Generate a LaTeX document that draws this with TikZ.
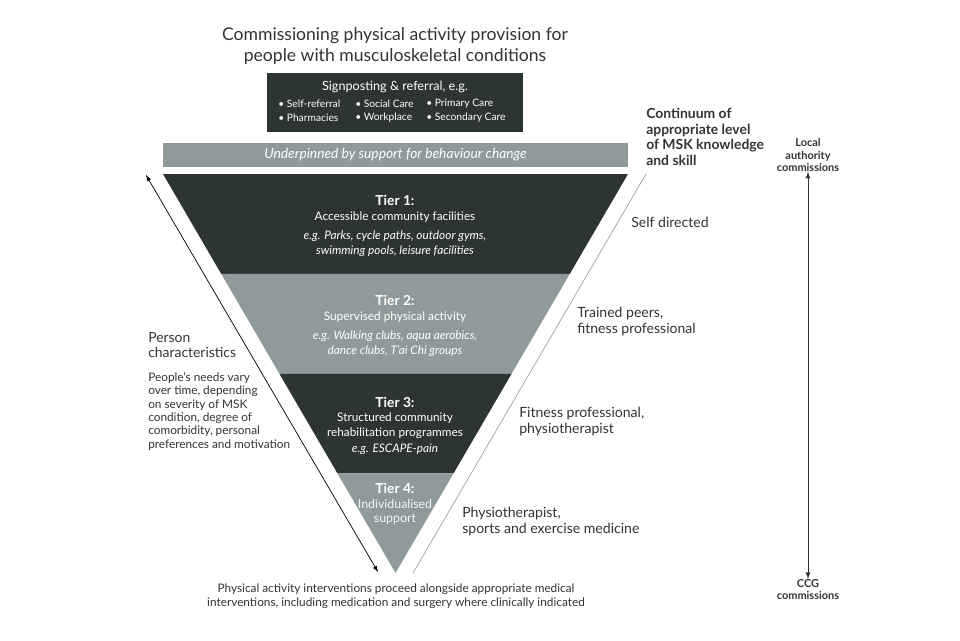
\documentclass[tikz,border=0pt]{standalone}
\usepackage{fontspec}
\setmainfont{Lato}
\usetikzlibrary{calc}
\usetikzlibrary{positioning}

\definecolor{tierdark}{HTML}{2C3532}
\definecolor{tiergrey}{HTML}{8F9B9B}
\definecolor{rulegrey}{HTML}{A4ACAC}
\definecolor{txtgrey}{HTML}{333333}

\tikzset{
  plain/.style={inner sep=0pt, text=txtgrey, align=left},
  tierhead/.style={inner sep=0pt, text=white, font=\bfseries\fontsize{9.8}{11}\selectfont},
  tiertext/.style={inner sep=0pt, text=white, align=center, font=\fontsize{8.4}{10.8}\selectfont},
  tiereg/.style={inner sep=0pt, text=white, align=center, font=\itshape\fontsize{8.4}{10.6}\selectfont},
  sign/.style={inner sep=0pt, text=white, anchor=west, font=\fontsize{7.3}{8}\selectfont},
  level/.style={plain, anchor=west, font=\fontsize{10}{11.4}\selectfont},
}

\begin{document}
\begin{tikzpicture}[x=0.025cm, y=-0.025cm]
  \useasboundingbox (0,0) rectangle (960,640);

  %Title
  \node [plain, align=center, font=\fontsize{12.5}{15.6}\selectfont] (title) at (395,46)
    {Commissioning physical activity provision for\\people with musculoskeletal conditions};

  %Box Signposting
  \node [fill=tierdark, minimum width=6.4cm, minimum height=1.475cm] (signbox) at (395,102.5) {};
  \node [inner sep=0pt, text=white, font=\fontsize{9}{10}\selectfont] (signhead) at (395,87) {Signposting \& referral, e.g.};
  \node [sign] (s1) at (278,104) {\textbullet\ Self-referral};
  \node [sign] (s2) at (355,104) {\textbullet\ Social Care};
  \node [sign] (s3) at (426,104) {\textbullet\ Primary Care};
  \node [sign] (s4) at (278,118) {\textbullet\ Pharmacies};
  \node [sign] (s5) at (355,118) {\textbullet\ Workplace};
  \node [sign] (s6) at (426,118) {\textbullet\ Secondary Care};

  %Bar behaviour change
  \node [fill=tiergrey, minimum width=11.625cm, minimum height=0.6cm, text=white,
         font=\itshape\fontsize{9.8}{11}\selectfont] (bar) at (395.5,155)
    {Underpinned by support for behaviour change};

  %Triangle
  \coordinate (TL) at (163,174);
  \coordinate (TR) at (628,174);
  \coordinate (AP) at (395.5,573);
  \fill [tierdark] (TL) -- (TR) -- ($(TR)!.25!(AP)$) -- ($(TL)!.25!(AP)$) -- cycle;
  \fill [tiergrey] ($(TL)!.25!(AP)$) -- ($(TR)!.25!(AP)$) -- ($(TR)!.5!(AP)$) -- ($(TL)!.5!(AP)$) -- cycle;
  \fill [tierdark] ($(TL)!.5!(AP)$) -- ($(TR)!.5!(AP)$) -- ($(TR)!.75!(AP)$) -- ($(TL)!.75!(AP)$) -- cycle;
  \fill [tiergrey] ($(TL)!.75!(AP)$) -- ($(TR)!.75!(AP)$) -- (AP) -- cycle;

  \node [tierhead] (t1) at (395,200) {Tier 1:};
  \node [tiertext] (t1a) at (395,217) {Accessible community facilities};
  \node [tiereg] (t1b) at (395,243.5) {e.g. Parks, cycle paths, outdoor gyms,\\swimming pools, leisure facilities};

  \node [tierhead] (t2) at (395,300) {Tier 2:};
  \node [tiertext] (t2a) at (395,317) {Supervised physical activity};
  \node [tiereg] (t2b) at (395,343.5) {e.g. Walking clubs, aqua aerobics,\\dance clubs, T'ai Chi groups};

  \node [tierhead] (t3) at (395,402) {Tier 3:};
  \node [tiertext] (t3a) at (395,425.5) {Structured community\\rehabilitation programmes};
  \node [tiereg] (t3b) at (395,449) {e.g. ESCAPE-pain};

  \node [tierhead] (t4) at (395,488) {Tier 4:};
  \node [tiertext, text=white!90!tiergrey, font=\fontsize{8.8}{10.5}\selectfont] (t4a) at (395,512) {Individualised\\support};

  %Continuum side
  \coordinate (PT) at (646,174);
  \coordinate (PB) at (413,573);
  \draw [rulegrey, line width=0.6pt] (PT) -- (PB);
  \foreach \f in {0,.25,.5,.75,1}
    \draw [rulegrey, line width=0.6pt] ($(PT)!\f!(PB)$) -- ($(PT)!\f!(PB)$ -| 772,0);

  \node [plain, anchor=north west, font=\bfseries\fontsize{9.9}{11}\selectfont] (cont) at (646,108)
    {Continuum of\\appropriate level\\of MSK knowledge\\and skill};

  \node [level] (l1) at (631,222) {Self directed};
  \node [level] (l2) at (577,322) {Trained peers,\\fitness professional};
  \node [level] (l3) at (519,422) {Fitness professional,\\physiotherapist};
  \node [level] (l4) at (462,522) {Physiotherapist,\\sports and exercise medicine};

  %Commissions
  \node [plain, align=center, font=\bfseries\fontsize{7.8}{8.9}\selectfont] (la) at (808,155)
    {Local\\authority\\commissions};
  \node [plain, align=center, font=\bfseries\fontsize{7.8}{8.9}\selectfont] (ccg) at (808,589.5)
    {CCG\\commissions};
  \draw [<->, >=latex, txtgrey, line width=0.6pt] (la.south) -- (ccg.north);

  %Person characteristics
  \coordinate (PA) at (146,175);
  \coordinate (PZ) at (378,572);
  \draw [<->, >=latex, black, line width=0.5pt] (PA) -- (PZ);
  \node [plain, anchor=north west, font=\fontsize{9.9}{10.7}\selectfont] (pers) at (148,332)
    {Person\\characteristics};
  \node [plain, anchor=north west, font=\fontsize{8.4}{9.5}\selectfont] (persb) at (148,372)
    {People's needs vary\\over time, depending\\on severity of MSK\\condition, degree of\\comorbidity, personal\\preferences and motivation};

  %Footnote
  \node [plain, align=center, font=\fontsize{8.4}{10}\selectfont] (foot) at (396,596)
    {Physical activity interventions proceed alongside appropriate medical\\interventions, including medication and surgery where clinically indicated};
\end{tikzpicture}
\end{document}
